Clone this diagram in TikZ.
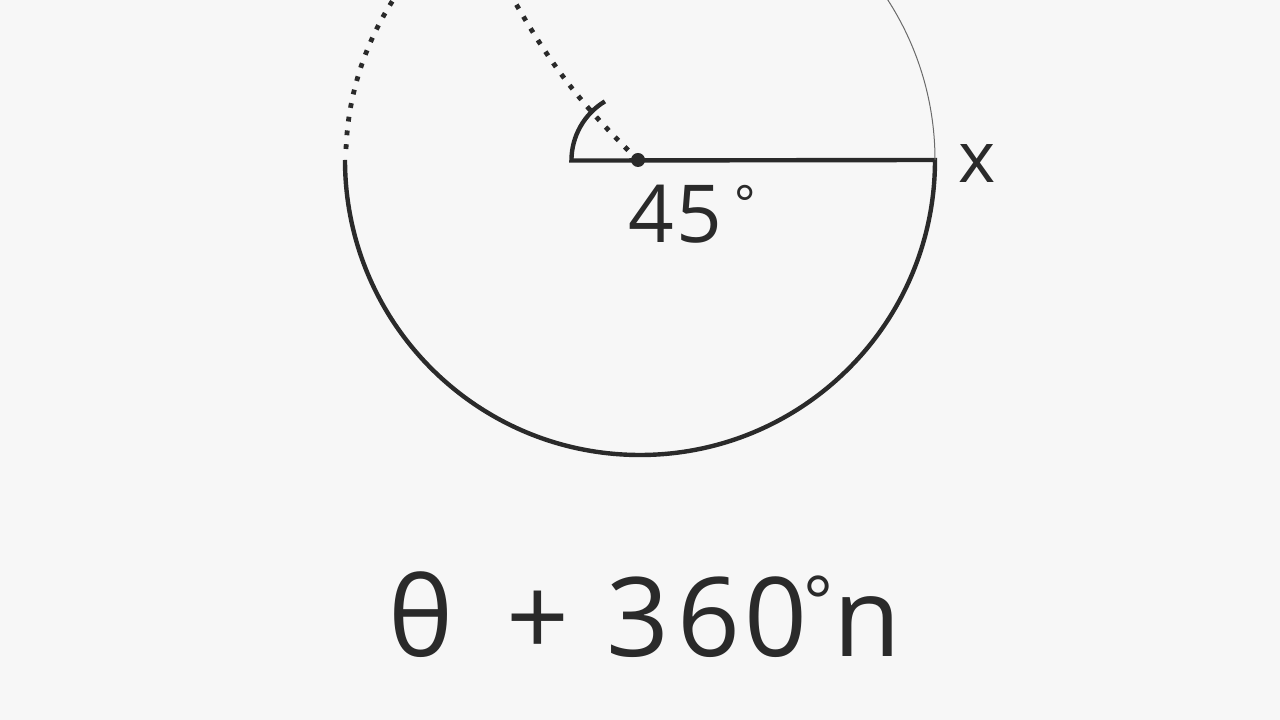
\documentclass[tikz,border=0pt]{standalone}
\usepackage{fontspec}
\setmainfont{Open Sans}
\definecolor{bg}{HTML}{F7F7F7}
\definecolor{ink}{HTML}{2A2A2A}
\definecolor{thin}{HTML}{6A6A6A}
\newcommand{\smalldeg}[2]{{\fontsize{#1}{#1}\selectfont\raisebox{#2}{°}}}
\begin{document}
\begin{tikzpicture}[x=1pt,y=1pt,
  mainline/.style={draw=ink,line width=4.4pt,line join=miter},
  dotline/.style={draw=ink,line width=4.8pt,dash pattern=on 4.8pt off 9pt},
  thinline/.style={draw=thin,line width=1pt},
  lbl/.style={text=ink,inner sep=0pt,anchor=base west}]
\useasboundingbox (0,0) rectangle (1280,720);
\fill[bg] (0,0) rectangle (1280,720);
\clip (0,0) rectangle (1280,720);
\coordinate (O) at (640,560);
\coordinate (arcend) at (604.9,618.6);
\coordinate (xright) at (935,560);
\coordinate (rayend) at (512,723);
% angle arc, ray and lower half circle
\draw[mainline] (arcend) arc[start angle=121,end angle=180,radius=69] -- (xright)
  arc[start angle=0,end angle=-180,radius=295];
% thin upper right arc
\draw[thinline] (xright) arc[start angle=0,end angle=40,radius=295];
% dotted upper left arc
\draw[dotline] (346,571) arc[start angle=177.8,end angle=140,radius=295];
% centre dot
\node[circle,fill=ink,inner sep=0pt,minimum size=14pt] (dot) at (638,560) {};
% dotted ray
\draw[dotline] (dot.center) to[bend left=8] (rayend);
% labels
\node[lbl,font=\fontsize{80}{80}\selectfont] (ang) at (628,477) {4\kern3pt 5\kern12pt\smalldeg{50}{21pt}};
\node[lbl,anchor=base,font=\fontsize{71}{71}\selectfont] (xlab) at (977,537) {x};
\node[lbl,font=\fontsize{110}{110}\selectfont] (formula) at (388,63) {θ\kern25pt{} +\kern8pt{} 3\kern8pt 6\kern4pt 0\kern-4pt\smalldeg{70}{30pt}n};
\end{tikzpicture}
\end{document}
